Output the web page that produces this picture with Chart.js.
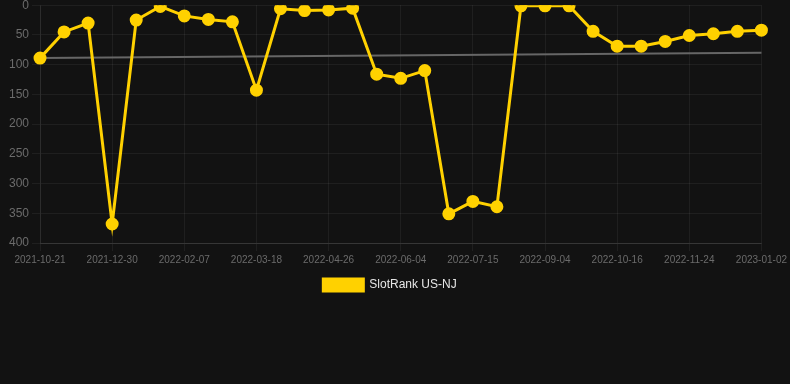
<!DOCTYPE html>
<html>
<head>
<meta charset="utf-8">
<script src="https://cdn.jsdelivr.net/npm/chart.js@4/dist/chart.umd.min.js"></script>
<style>
    html, body { margin: 0; padding: 0; background: #121212; overflow: hidden; }
    .chart-box { position: relative; width: 790px; height: 306px; margin-top: -5px; }
</style>
</head>
<body>
<div class="chart-box"><canvas id="rankChart"></canvas></div>
<script>
// --- Data ---
const dates = [
    '2021-10-21', '2021-11-13', '2021-12-06', '2021-12-30', '2022-01-12', '2022-01-25',
    '2022-02-07', '2022-02-20', '2022-03-05', '2022-03-18', '2022-03-31', '2022-04-13',
    '2022-04-26', '2022-05-09', '2022-05-22', '2022-06-04', '2022-06-18', '2022-07-01',
    '2022-07-15', '2022-08-01', '2022-08-18', '2022-09-04', '2022-09-18', '2022-10-02',
    '2022-10-16', '2022-10-29', '2022-11-11', '2022-11-24', '2022-12-07', '2022-12-20',
    '2023-01-02'
];
const rankValues = [
    89, 45, 30, 368, 25, 2, 18, 24, 28, 143, 6,
    9, 8, 5, 116, 123, 110, 351, 330, 339, 1,
    1, 1, 44, 69, 69, 61, 51, 48, 44, 42
];
const trendStart = 89;
const trendEnd = 80;
const yTicks = [0, 50, 100, 150, 200, 250, 300, 350, 400];

const trendValues = dates.map((d, i) => i === 0 ? trendStart : (i === dates.length - 1 ? trendEnd : null));

const gridColor = 'rgba(255,255,255,0.06)';
const tickColor = '#6b6b6b';

new Chart(document.getElementById('rankChart').getContext('2d'), {
    type: 'line',
    data: {
        labels: dates,
        datasets: [
            {
                label: 'SlotRank US-NJ',
                data: rankValues,
                borderColor: '#FFD100',
                backgroundColor: '#FFD100',
                borderWidth: 3,
                pointRadius: 5,
                pointBackgroundColor: '#FFD100',
                pointBorderColor: '#FFD100',
                tension: 0
            },
            {
                label: 'trend',
                data: trendValues,
                borderColor: '#666666',
                borderWidth: 2,
                pointRadius: 0,
                spanGaps: true
            }
        ]
    },
    options: {
        responsive: true,
        maintainAspectRatio: false,
        animation: false,
        layout: { padding: { left: 6, right: 16 } },
        scales: {
            y: {
                reverse: true,
                min: 0,
                max: 400,
                afterBuildTicks: axis => { axis.ticks = yTicks.map(v => ({ value: v })); },
                grid: { color: gridColor },
                border: { color: gridColor },
                ticks: { color: tickColor, font: { size: 12 } }
            },
            x: {
                grid: { color: gridColor },
                border: { color: 'rgba(255,255,255,0.1)' },
                ticks: { color: tickColor, font: { size: 10 }, maxRotation: 0, autoSkip: true }
            }
        },
        plugins: {
            legend: {
                position: 'bottom',
                labels: {
                    color: '#e6e6e6',
                    font: { size: 12 },
                    boxWidth: 40,
                    filter: item => item.text !== 'trend'
                }
            },
            tooltip: { enabled: false }
        }
    }
});
</script>
</body>
</html>
